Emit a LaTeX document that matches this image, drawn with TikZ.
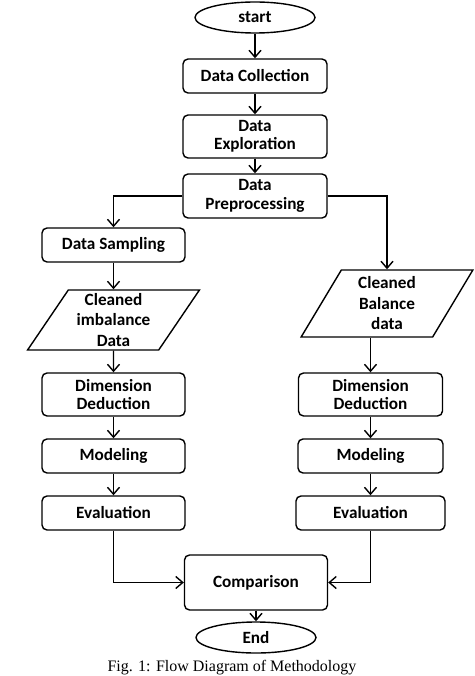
\documentclass[tikz,border=0pt]{standalone}
\usepackage{fontspec}
\setmainfont{Carlito}
\newfontfamily\capfont{Liberation Serif}
\usetikzlibrary{shapes.geometric,arrows.meta}
\begin{document}
\begin{tikzpicture}[x=1pt,y=-1pt,
  lbl/.style={font=\bfseries\fontsize{17.2}{18.5}\selectfont},
  box/.style={lbl, draw, rounded corners=5pt, line width=1.4pt, minimum width=144pt, align=center, inner sep=0pt},
  term/.style={lbl, draw, ellipse, line width=1.4pt, minimum width=120pt, minimum height=31pt, inner sep=0pt},
  io/.style={draw, trapezium, trapezium stretches=true, minimum width=172pt, line width=1.4pt, align=center, inner sep=0pt, font=\bfseries\fontsize{17.2}{20.5}\selectfont},
  arr/.style={line width=1.4pt, -{Straight Barb[length=7pt,width=12pt]}}
]
\useasboundingbox (0,0) rectangle (474,676);
\node[term] (start) at (255,17.5) {start};
\node[box, minimum height=34pt] (dc) at (255,76) {Data Collection};
\node[box, minimum height=43pt] (de) at (255,136.5) {Data\\Exploration};
\node[box, minimum height=44pt] (dp) at (255,196) {Data\\Preprocessing};
\node[box, minimum width=143pt, minimum height=34pt] (ds) at (113.5,245) {Data Sampling};
\node[io, trapezium left angle=58, trapezium right angle=122, minimum height=60pt] (pl) at (113.5,320) {Cleaned\\imbalance\\Data};
\node[box, minimum width=143pt, minimum height=43pt] (ddl) at (113.5,394.5) {Dimension\\Deduction};
\node[box, minimum width=143pt, minimum height=34pt] (ml) at (113.5,456) {Modeling};
\node[box, minimum width=143pt, minimum height=34pt] (el) at (113.5,513) {Evaluation};
\node[io, trapezium left angle=64.5, trapezium right angle=115.5, minimum height=67pt] (pr) at (387,303.5) {Cleaned\\Balance\\data};
\node[box, minimum height=43pt] (ddr) at (370.5,394.5) {Dimension\\Deduction};
\node[box, minimum width=145pt, minimum height=34pt] (mr) at (370.5,456) {Modeling};
\node[box, minimum width=149pt, minimum height=34pt] (er) at (370.5,513) {Evaluation};
\node[box, minimum width=143pt, minimum height=55pt] (cmp) at (256,582.5) {Comparison};
\node[term] (end) at (256,637.5) {End};
\node[font=\capfont\fontsize{16}{18}\selectfont, anchor=base] (cap) at (232,671.5) {Fig. 1: Flow Diagram of Methodology};

\draw[arr] (start) -- (dc);
\draw[arr] (dc) -- (de);
\draw[arr] (de) -- (dp);
\draw[arr] (dp.west) -| (ds.north);
\draw[arr] (dp.east) -| (pr.north);
\draw[arr] (ds) -- (pl);
\draw[arr] (pl) -- (ddl);
\draw[arr] (ddl) -- (ml);
\draw[arr] (ml) -- (el);
\draw[arr] (pr.south -| ddr.north) -- (ddr.north);
\draw[arr] (ddr) -- (mr);
\draw[arr] (mr) -- (er);
\draw[arr] (el.south) |- (cmp.west);
\draw[arr] (er.south) |- (cmp.east);
\draw[arr] (cmp) -- (end);
\end{tikzpicture}
\end{document}
